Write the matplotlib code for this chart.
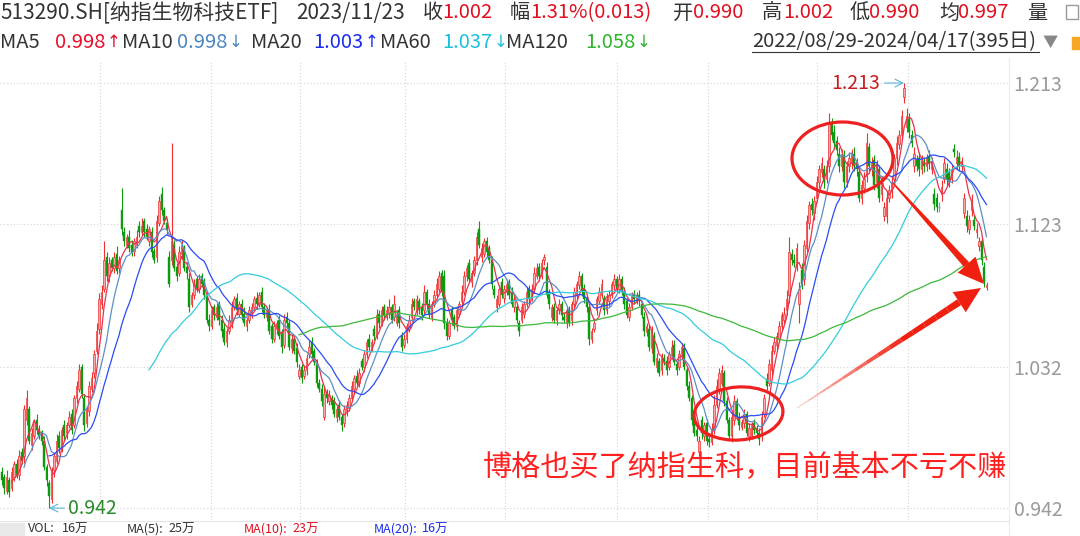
import numpy as np
import pandas as pd
import matplotlib
matplotlib.use('Agg')
import matplotlib.pyplot as plt
from matplotlib.patches import Ellipse, Polygon, Rectangle

plt.rcParams['font.family'] = ['Noto Sans CJK SC', 'DejaVu Sans']

# 日K数据 (单位: 0.001 元), 2022/08/29 - 2024/04/17, 395 根
closes = [
    960, 955, 962, 952, 965, 970, 963, 975, 972, 1005, 1012, 985, 990, 997, 992, 988, 985, 968, 960, 950,
    965, 975, 985, 980, 992, 988, 995, 1000, 992, 1012, 1020, 1030, 1015, 995, 1005, 1020, 1025, 1040, 1055, 1075,
    1080, 1100, 1090, 1098, 1095, 1102, 1093, 1100, 1120, 1112, 1115, 1108, 1105, 1112, 1115, 1118, 1122, 1118, 1115, 1120,
    1105, 1100, 1125, 1138, 1132, 1125, 1120, 1085, 1112, 1095, 1090, 1105, 1110, 1095, 1092, 1070, 1078, 1085, 1082, 1088,
    1085, 1078, 1062, 1058, 1068, 1065, 1070, 1062, 1055, 1048, 1055, 1062, 1070, 1075, 1068, 1072, 1065, 1060, 1062, 1068,
    1070, 1075, 1072, 1078, 1070, 1065, 1068, 1055, 1050, 1058, 1060, 1052, 1045, 1062, 1060, 1045, 1050, 1042, 1035, 1030,
    1025, 1030, 1038, 1045, 1040, 1035, 1022, 1018, 1010, 1015, 1012, 1014, 1008, 1002, 1005, 1000, 995, 1005, 1008, 1012,
    1020, 1025, 1022, 1028, 1032, 1040, 1048, 1045, 1048, 1052, 1065, 1060, 1068, 1065, 1068, 1070, 1062, 1072, 1066, 1060,
    1045, 1050, 1058, 1062, 1072, 1070, 1075, 1068, 1065, 1080, 1072, 1065, 1072, 1078, 1085, 1090, 1080, 1060, 1052, 1060,
    1062, 1058, 1068, 1072, 1080, 1090, 1095, 1088, 1092, 1100, 1115, 1110, 1108, 1112, 1105, 1100, 1085, 1078, 1075, 1082,
    1078, 1082, 1085, 1078, 1072, 1075, 1062, 1055, 1070, 1072, 1080, 1075, 1082, 1092, 1095, 1090, 1098, 1102, 1078, 1072,
    1070, 1062, 1068, 1072, 1065, 1062, 1068, 1060, 1072, 1080, 1085, 1090, 1080, 1075, 1070, 1050, 1055, 1060, 1075, 1080,
    1085, 1068, 1075, 1078, 1085, 1088, 1082, 1088, 1080, 1072, 1065, 1070, 1078, 1075, 1078, 1074, 1065, 1055, 1058, 1045,
    1055, 1035, 1038, 1028, 1038, 1035, 1030, 1040, 1045, 1035, 1030, 1040, 1045, 1032, 1020, 1012, 998, 990, 988, 985,
    990, 995, 985, 984, 992, 1008, 1020, 1028, 1030, 1010, 998, 988, 1000, 1010, 1000, 995, 997, 1002, 990, 993,
    995, 992, 990, 986, 1000, 1012, 1020, 1034, 1042, 1048, 1052, 1058, 1065, 1066, 1075, 1105, 1100, 1098, 1108, 1082,
    1085, 1110, 1125, 1135, 1132, 1138, 1150, 1158, 1162, 1150, 1160, 1188, 1180, 1175, 1170, 1160, 1168, 1150, 1160, 1165,
    1168, 1160, 1158, 1140, 1148, 1152, 1175, 1160, 1162, 1148, 1160, 1140, 1150, 1134, 1140, 1145, 1150, 1165, 1175, 1180,
    1192, 1210, 1192, 1182, 1175, 1168, 1160, 1158, 1164, 1160, 1165, 1162, 1163, 1136, 1134, 1134, 1147, 1162, 1152, 1150,
    1158, 1169, 1166, 1160, 1162, 1140, 1122, 1126, 1138, 1122, 1120, 1112, 1100, 1086, 1084,
]
opens = [
    965, 962, 953, 960, 955, 962, 970, 963, 978, 975, 998, 1005, 982, 988, 998, 992, 990, 985, 968, 958,
    948, 966, 972, 988, 980, 995, 990, 995, 1002, 995, 1012, 1018, 1032, 1012, 996, 1004, 1018, 1028, 1042, 1056,
    1072, 1082, 1102, 1090, 1100, 1095, 1104, 1095, 1132, 1118, 1110, 1115, 1110, 1106, 1110, 1122, 1118, 1125, 1120, 1112,
    1118, 1106, 1102, 1124, 1142, 1132, 1124, 1102, 1100, 1110, 1096, 1092, 1104, 1108, 1096, 1088, 1072, 1078, 1088, 1082,
    1090, 1086, 1078, 1062, 1058, 1070, 1064, 1072, 1062, 1056, 1048, 1055, 1060, 1070, 1076, 1066, 1072, 1066, 1058, 1062,
    1066, 1070, 1076, 1072, 1080, 1070, 1064, 1068, 1058, 1050, 1056, 1062, 1054, 1046, 1064, 1060, 1044, 1050, 1044, 1026,
    1032, 1026, 1030, 1040, 1048, 1042, 1034, 1022, 1018, 1000, 1016, 1010, 1012, 1010, 1000, 1008, 1000, 996, 1004, 1006,
    1012, 1018, 1026, 1022, 1036, 1032, 1040, 1050, 1044, 1056, 1052, 1066, 1060, 1070, 1064, 1066, 1070, 1064, 1060, 1068,
    1052, 1046, 1050, 1056, 1064, 1074, 1068, 1074, 1070, 1068, 1080, 1072, 1064, 1072, 1078, 1082, 1092, 1090, 1060, 1052,
    1068, 1064, 1058, 1066, 1074, 1080, 1090, 1098, 1086, 1092, 1100, 1120, 1102, 1104, 1112, 1108, 1100, 1082, 1070, 1072,
    1086, 1076, 1080, 1086, 1080, 1070, 1070, 1060, 1062, 1066, 1072, 1082, 1076, 1082, 1090, 1096, 1090, 1100, 1096, 1080,
    1064, 1070, 1062, 1068, 1072, 1064, 1060, 1068, 1062, 1072, 1078, 1084, 1090, 1082, 1076, 1070, 1050, 1056, 1068, 1074,
    1078, 1076, 1068, 1074, 1078, 1084, 1088, 1082, 1088, 1080, 1074, 1064, 1070, 1078, 1074, 1078, 1072, 1064, 1054, 1056,
    1044, 1052, 1032, 1036, 1030, 1038, 1036, 1032, 1040, 1046, 1034, 1032, 1040, 1044, 1030, 1020, 1012, 998, 992, 978,
    998, 988, 996, 986, 984, 992, 1008, 1018, 1022, 1028, 1010, 998, 988, 998, 1010, 1000, 994, 996, 1002, 988,
    988, 996, 993, 990, 988, 1002, 1024, 1022, 1030, 1042, 1046, 1050, 1058, 1062, 1068, 1078, 1104, 1100, 1096, 1072,
    1094, 1088, 1108, 1124, 1136, 1130, 1140, 1150, 1156, 1158, 1152, 1160, 1188, 1182, 1176, 1168, 1160, 1166, 1150, 1160,
    1162, 1168, 1162, 1156, 1140, 1146, 1154, 1172, 1158, 1164, 1150, 1158, 1142, 1128, 1128, 1140, 1144, 1152, 1165, 1174,
    1180, 1204, 1185, 1190, 1180, 1160, 1164, 1165, 1158, 1162, 1160, 1166, 1158, 1142, 1140, 1134, 1142, 1152, 1158, 1156,
    1152, 1171, 1162, 1166, 1160, 1130, 1128, 1120, 1132, 1126, 1118, 1109, 1112, 1096, 1083,
]
# 上影线 / 下影线长度 (0.001 元)
wick_up = [
    3, 2, 4, 2, 3, 2, 3, 4, 2, 3, 5, 2, 3, 2, 4, 3, 2, 3, 2, 2,
    3, 2, 4, 3, 2, 3, 2, 4, 3, 2, 3, 4, 2, 3, 2, 3, 4, 3, 5, 4,
    4, 12, 3, 4, 2, 3, 5, 3, 14, 3, 2, 4, 3, 2, 4, 3, 5, 2, 3, 2,
    3, 2, 4, 3, 5, 2, 3, 4, 63, 3, 2, 4, 3, 2, 3, 4, 2, 3, 2, 3,
    2, 3, 2, 4, 3, 2, 3, 2, 3, 4, 2, 3, 4, 2, 3, 2, 3, 4, 2, 3,
    3, 2, 4, 2, 3, 3, 2, 4, 2, 3, 2, 3, 2, 4, 3, 2, 3, 2, 3, 4,
    2, 3, 2, 4, 3, 2, 3, 2, 3, 5, 2, 3, 2, 3, 2, 3, 2, 3, 2, 3,
    3, 2, 4, 3, 2, 3, 2, 3, 2, 3, 4, 2, 3, 2, 3, 5, 2, 6, 2, 3,
    2, 3, 2, 3, 4, 2, 3, 2, 3, 4, 2, 3, 2, 3, 4, 3, 2, 4, 3, 2,
    3, 2, 3, 2, 4, 3, 2, 3, 2, 3, 3, 5, 3, 2, 3, 2, 3, 2, 3, 2,
    3, 2, 3, 2, 3, 2, 3, 2, 3, 2, 3, 2, 3, 4, 3, 2, 3, 2, 3, 2,
    2, 3, 2, 3, 2, 3, 2, 3, 2, 3, 2, 3, 2, 3, 2, 3, 2, 3, 2, 3,
    3, 2, 4, 3, 2, 3, 2, 3, 2, 3, 2, 3, 2, 3, 2, 3, 2, 3, 2, 3,
    3, 2, 3, 2, 3, 2, 3, 2, 4, 3, 2, 3, 2, 3, 2, 3, 2, 3, 2, 3,
    3, 2, 3, 2, 4, 6, 4, 3, 3, 2, 3, 2, 3, 4, 2, 3, 2, 3, 2, 3,
    2, 3, 2, 3, 4, 3, 4, 3, 4, 3, 2, 3, 2, 4, 6, 10, 3, 4, 3, 4,
    4, 3, 4, 3, 4, 3, 4, 3, 4, 3, 4, 6, 3, 4, 3, 4, 3, 4, 3, 4,
    3, 4, 3, 4, 3, 4, 6, 3, 4, 3, 4, 3, 4, 3, 4, 3, 4, 3, 4, 3,
    4, 3, 5, 4, 3, 4, 3, 4, 3, 4, 3, 4, 3, 4, 3, 3, 4, 3, 4, 3,
    3, 3, 4, 3, 4, 3, 4, 3, 4, 3, 4, 3, 3, 3, 2,
]
wick_dn = [
    3, 4, 2, 3, 2, 3, 2, 3, 2, 4, 3, 2, 3, 2, 3, 2, 3, 2, 4, 8,
    3, 4, 2, 3, 2, 3, 4, 2, 3, 2, 3, 2, 3, 4, 2, 3, 2, 3, 2, 3,
    3, 2, 3, 4, 2, 3, 2, 3, 4, 3, 2, 3, 2, 3, 2, 3, 2, 3, 2, 3,
    3, 2, 3, 2, 3, 2, 3, 2, 3, 2, 3, 2, 3, 2, 4, 3, 2, 3, 2, 3,
    2, 3, 2, 3, 2, 3, 2, 3, 4, 2, 3, 2, 3, 2, 3, 2, 3, 2, 3, 2,
    3, 2, 3, 2, 3, 2, 3, 2, 3, 2, 3, 2, 4, 2, 3, 2, 3, 2, 3, 2,
    3, 2, 3, 2, 3, 2, 3, 2, 3, 2, 3, 2, 3, 2, 3, 2, 4, 2, 3, 2,
    2, 3, 2, 3, 2, 3, 2, 3, 2, 3, 2, 3, 2, 3, 2, 3, 2, 3, 2, 3,
    3, 2, 3, 2, 3, 2, 3, 2, 3, 2, 3, 2, 3, 2, 3, 2, 3, 4, 3, 2,
    3, 2, 3, 2, 3, 2, 3, 2, 3, 2, 3, 2, 3, 2, 3, 2, 3, 2, 3, 2,
    2, 3, 2, 3, 2, 3, 2, 3, 2, 3, 2, 3, 2, 3, 2, 3, 2, 3, 2, 3,
    3, 2, 3, 2, 3, 2, 3, 2, 3, 2, 3, 2, 3, 2, 3, 4, 3, 2, 3, 2,
    2, 3, 2, 3, 2, 3, 2, 3, 2, 3, 2, 3, 2, 3, 2, 3, 2, 3, 2, 3,
    3, 2, 3, 2, 3, 2, 3, 2, 3, 2, 3, 2, 3, 2, 3, 2, 3, 2, 3, 3,
    4, 3, 3, 3, 2, 3, 2, 3, 2, 3, 2, 3, 4, 3, 2, 3, 2, 3, 2, 3,
    2, 3, 2, 4, 3, 2, 3, 2, 3, 2, 3, 2, 3, 2, 3, 5, 3, 2, 3, 12,
    3, 4, 3, 4, 3, 4, 3, 4, 3, 4, 3, 4, 3, 4, 3, 4, 3, 4, 3, 4,
    4, 3, 4, 3, 4, 3, 4, 3, 4, 3, 4, 3, 4, 3, 4, 3, 4, 3, 4, 3,
    3, 4, 3, 4, 3, 4, 3, 4, 3, 4, 3, 4, 3, 4, 3, 3, 4, 3, 4, 3,
    3, 3, 4, 3, 4, 3, 4, 3, 4, 3, 4, 3, 3, 3, 2,
]
assert len(closes) == len(opens) == len(wick_up) == len(wick_dn) == 395

y_ticks = [0.942, 1.032, 1.123, 1.213]
ma_windows = [5, 10, 20, 60, 120]
ma_colors = ['#e8334f', '#5b8fc7', '#2a4cf5', '#33ccdd', '#3cb83c']

RED = '#f03030'
GREEN = '#0e9a0e'

c = np.array(closes) / 1000
o = np.array(opens) / 1000
hi = np.maximum(o, c) + np.array(wick_up) / 1000
lo = np.minimum(o, c) - np.array(wick_dn) / 1000
idx = np.arange(len(c))

fig = plt.figure(figsize=(10.8, 5.36), dpi=100)
ax = fig.add_axes([0, 16 / 536, 1008 / 1080, 460 / 536])

# 竖向网格 (每两个月)
for gx in [39.4, 83.8, 119.4, 161.4, 201.4, 246.2, 282.6, 326.2, 362.6]:
    ax.axvline(gx, color='#d4d4d4', lw=0.8, ls=(0, (1, 2)), zorder=0)
ax.grid(axis='y', color='#d4d4d4', lw=0.8, ls=(0, (1, 2)), zorder=0)

up = c > o
down = c < o
flat = c == o

ax.vlines(idx[up], lo[up], hi[up], color=RED, lw=0.8, zorder=2)
ax.bar(idx[up], c[up] - o[up], bottom=o[up], width=0.75,
       color='#ffa8a8', edgecolor=RED, linewidth=0.5, zorder=3)
ax.vlines(idx[down], lo[down], hi[down], color=GREEN, lw=0.8, zorder=2)
ax.bar(idx[down], o[down] - c[down], bottom=c[down], width=0.75,
       color=GREEN, edgecolor=GREEN, linewidth=0.3, zorder=3)
ax.vlines(idx[flat], lo[flat], hi[flat], color='#7aa0c0', lw=0.8, zorder=2)
ax.hlines(c[flat], idx[flat] - 0.5, idx[flat] + 0.5, color='#7aa0c0', lw=1, zorder=3)

# 均线
s = pd.Series(c)
for n, col in zip(ma_windows, ma_colors):
    ax.plot(idx, s.rolling(n).mean(), color=col, lw=0.9, zorder=4)

# 最高 / 最低标注
imax = int(np.argmax(hi))
imin = int(np.argmin(lo))
ax.annotate(f'{hi[imax]:.3f}', xy=(imax, hi[imax]), xytext=(-17, 0),
            textcoords='offset points', ha='right', va='center',
            color='#c81e1e', fontsize=14,
            arrowprops=dict(arrowstyle='->', color='#5ab4d6', lw=0.8,
                            shrinkA=1, shrinkB=0))
ax.annotate(f'{lo[imin]:.3f}', xy=(imin, lo[imin]), xytext=(14, 0),
            textcoords='offset points', ha='left', va='center',
            color='#2a8a2a', fontsize=14,
            arrowprops=dict(arrowstyle='->', color='#5ab4d6', lw=0.8,
                            shrinkA=1, shrinkB=0))

ax.set_xlim(-0.6, 402.6)
ax.set_ylim(0.9344, 1.2277)
ax.set_yticks(y_ticks)
ax.set_yticklabels([f'{v:.3f}' for v in y_ticks])
ax.yaxis.tick_right()
ax.tick_params(axis='y', length=0, pad=4, labelsize=14, labelcolor='#9a9a9a')
ax.tick_params(axis='x', bottom=False, labelbottom=False)
for sp in ax.spines.values():
    sp.set_visible(False)

# 叠加层: 像素坐标
ov = fig.add_axes([0, 0, 1, 1], zorder=10)
ov.set_xlim(0, 1080)
ov.set_ylim(536, 0)
ov.axis('off')
ov.patch.set_alpha(0)

ov.plot([1008.5, 1008.5], [58, 536], color='#ececec', lw=0.8)
ov.plot([0, 1008], [521, 521], color='#e6e6e6', lw=0.8)

DARK = '#333333'
VRED = '#e01020'
line1 = [(0, '513290.SH[纳指生物科技ETF]', DARK, 15), (296, '2023/11/23', DARK, 15),
         (423, '收', DARK, 14.5), (442, '1.002', VRED, 14.5), (510, '幅', DARK, 14.5),
         (530, '1.31%(0.013)', VRED, 14.5), (673, '开', DARK, 14.5), (693, '0.990', VRED, 14.5),
         (762, '高', DARK, 14.5), (783, '1.002', VRED, 14.5), (850, '低', DARK, 14.5),
         (869, '0.990', VRED, 14.5), (939, '均', DARK, 14.5), (958, '0.997', VRED, 14.5),
         (1027, '量', DARK, 14.5)]
for x, t, col, fs in line1:
    ov.text(x, 13, t, color=col, fontsize=fs, va='center', ha='left')

line2 = [(0, 'MA5', DARK), (55, '0.998', '#e8102a'), (122, 'MA10', DARK),
         (177, '0.998', '#4a86c5'), (251, 'MA20', DARK), (313, '1.003', '#1a2cf0'),
         (380, 'MA60', DARK), (442, '1.037', '#1ec0dc'), (506, 'MA120', DARK),
         (585, '1.058', '#2db52d'), (752, '2022/08/29-2024/04/17(395日)', DARK)]
for x, t, col in line2:
    ov.text(x, 42, t, color=col, fontsize=14.5, va='center', ha='left')
# 均线方向箭头
arrows2 = [(107, '↑', '#e8102a'), (229, '↓', '#4a86c5'), (365, '↑', '#1a2cf0'),
           (494, '↓', '#1ec0dc'), (637, '↓', '#2db52d')]
for x, t, col in arrows2:
    ov.text(x, 42, t, color=col, fontsize=12, va='center', ha='left',
            family='DejaVu Sans')
ov.plot([752, 1039], [52, 52], color=DARK, lw=0.8)
ov.text(1043, 42, '▼', color='#888888', fontsize=11, va='center', ha='left')
ov.add_patch(Rectangle((1072, 37), 10, 12, color='#f5a623'))
ov.add_patch(Rectangle((1066, 5), 12, 14, fill=False, ec='#999999', lw=1))

line3 = [(28, 'VOL:', DARK), (62, '16万', DARK), (127, 'MA(5):', DARK), (168, '25万', DARK),
         (244, 'MA(10):', VRED), (292, '23万', VRED), (374, 'MA(20):', '#1a2cf0'),
         (422, '16万', '#1a2cf0')]
ov.add_patch(Rectangle((0, 523), 24, 15, color='#e9e9e9'))
for x, t, col in line3:
    ov.text(x, 529, t, color=col, fontsize=9, va='center', ha='left')

# 红色圈注与箭头
ov.add_patch(Ellipse((842.5, 158.5), 101, 73, angle=0, fill=False, ec='#ee2020', lw=2.3))
ov.add_patch(Ellipse((738.5, 413.5), 89, 53, angle=-4, fill=False, ec='#ee2020', lw=2.3))


def tapered_arrow(s, t, w0, w1, hl, hw, color, fade=False):
    s = np.array(s, float)
    t = np.array(t, float)
    d = (t - s) / np.linalg.norm(t - s)
    nrm = np.array([-d[1], d[0]])
    b = t - d * hl
    if fade:
        k = 14
        for j in range(k):
            f0, f1 = j / k, (j + 1) / k
            p0, p1 = s + (b - s) * f0, s + (b - s) * f1
            wa, wb = w0 + (w1 - w0) * f0, w0 + (w1 - w0) * f1
            ov.add_patch(Polygon([p0 + nrm * wa / 2, p1 + nrm * wb / 2,
                                  p1 - nrm * wb / 2, p0 - nrm * wa / 2],
                                 color=color, alpha=min(1, 0.15 + 1.2 * f1), lw=0))
    else:
        ov.add_patch(Polygon([s + nrm * w0 / 2, b + nrm * w1 / 2,
                              b - nrm * w1 / 2, s - nrm * w0 / 2], color=color, lw=0))
    ov.add_patch(Polygon([b + nrm * hw / 2, t, b - nrm * hw / 2], color=color, lw=0))


tapered_arrow((893, 183), (984, 284), 1.5, 7, 26, 24, '#f02010')
tapered_arrow((797, 408), (981, 288), 1.0, 7, 26, 24, '#f02010', fade=True)

ov.text(483, 468, '博格也买了纳指生科，目前基本不亏不赚', color='#ff2020',
        fontsize=21, va='center', ha='left')

fig.savefig('out.png', dpi=100)
